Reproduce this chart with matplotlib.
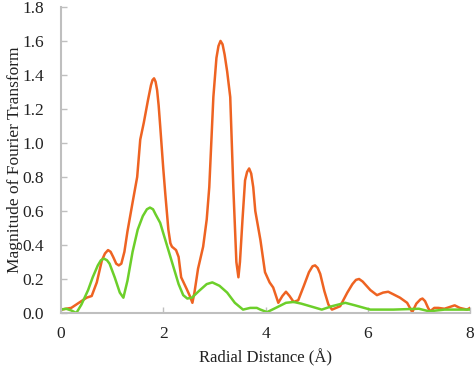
import numpy as np
import matplotlib
matplotlib.use("Agg")
import matplotlib.pyplot as plt

# orange curve
r_orange = [0.0, 0.2, 0.4, 0.5, 0.6, 0.7, 0.8, 0.86, 0.92, 0.97, 1.02, 1.08, 1.13, 1.18, 1.24, 1.3,
            1.4, 1.49, 1.55, 1.62, 1.7, 1.76, 1.79, 1.82, 1.85, 1.88, 1.91, 1.94, 2.0, 2.04,
            2.1, 2.14, 2.17, 2.25, 2.3, 2.35, 2.46, 2.52, 2.57, 2.61, 2.68, 2.78, 2.85, 2.9,
            2.98, 3.04, 3.08, 3.12, 3.16, 3.2, 3.25, 3.31, 3.37, 3.43, 3.47, 3.5, 3.55, 3.6,
            3.64, 3.68, 3.72, 3.76, 3.8, 3.9, 3.99, 4.08, 4.15, 4.25, 4.33, 4.4, 4.47, 4.55,
            4.64, 4.75, 4.85, 4.92, 4.97, 5.02, 5.07, 5.15, 5.23, 5.3, 5.46, 5.6, 5.7, 5.77,
            5.83, 5.9, 6.05, 6.18, 6.3, 6.4, 6.5, 6.63, 6.77, 6.87, 6.95, 7.03, 7.07, 7.12,
            7.18, 7.22, 7.3, 7.38, 7.5, 7.6, 7.7, 7.8, 7.94, 8.0]
m_orange = [0.02, 0.03, 0.07, 0.09, 0.10, 0.18, 0.31, 0.35, 0.37, 0.36, 0.33, 0.29, 0.28, 0.29, 0.36, 0.48,
            0.65, 0.80, 1.02, 1.12, 1.25, 1.34, 1.37, 1.38, 1.36, 1.31, 1.22, 1.10, 0.85, 0.70,
            0.49, 0.41, 0.39, 0.37, 0.33, 0.21, 0.14, 0.10, 0.06, 0.12, 0.26, 0.39, 0.55, 0.74,
            1.27, 1.50, 1.57, 1.60, 1.58, 1.52, 1.42, 1.27, 0.74, 0.30, 0.21, 0.30, 0.55, 0.78,
            0.83, 0.85, 0.82, 0.74, 0.60, 0.43, 0.24, 0.18, 0.15, 0.06, 0.10, 0.125, 0.10, 0.065,
            0.075, 0.16, 0.24, 0.275, 0.28, 0.265, 0.23, 0.13, 0.05, 0.02, 0.04, 0.12, 0.17, 0.195,
            0.20, 0.185, 0.135, 0.105, 0.12, 0.125, 0.11, 0.09, 0.06, 0.005, 0.055, 0.08, 0.085, 0.07,
            0.03, 0.01, 0.03, 0.03, 0.025, 0.035, 0.045, 0.03, 0.02, 0.03]

# green curve
r_green = [0.0, 0.1, 0.2, 0.3, 0.4, 0.53, 0.62, 0.72, 0.78, 0.84, 0.9, 0.95, 1.05, 1.15, 1.22, 1.3,
           1.4, 1.5, 1.6, 1.68, 1.74, 1.8, 1.85, 1.94, 2.05, 2.2, 2.3, 2.39, 2.47, 2.56, 2.7,
           2.85, 2.96, 3.1, 3.25, 3.4, 3.56, 3.7, 3.83, 3.9, 4.03, 4.2, 4.4, 4.55, 4.7, 4.93,
           5.1, 5.3, 5.56, 5.75, 6.05, 6.5, 7.0, 7.2, 7.5, 8.0]
m_green = [0.02, 0.025, 0.015, 0.0, 0.05, 0.135, 0.21, 0.28, 0.31, 0.32, 0.31, 0.29, 0.21, 0.12, 0.09, 0.19,
           0.36, 0.49, 0.57, 0.61, 0.62, 0.61, 0.58, 0.53, 0.42, 0.27, 0.17, 0.105, 0.085, 0.09, 0.13,
           0.17, 0.18, 0.16, 0.12, 0.06, 0.02, 0.03, 0.03, 0.02, 0.005, 0.03, 0.06, 0.065, 0.055, 0.035,
           0.02, 0.04, 0.06, 0.045, 0.02, 0.02, 0.025, 0.01, 0.02, 0.02]

plt.rcParams['font.family'] = ['Liberation Serif', 'DejaVu Serif']

fig = plt.figure(figsize=(4.74, 3.66), dpi=100)
ax = fig.add_axes([0.1287, 0.1448, 0.8629, 0.8363])

ax.plot(r_orange, m_orange, color='#EE6322', linewidth=1.8, solid_joinstyle='round')
ax.plot(r_green, m_green, color='#6CCF2A', linewidth=1.8, solid_joinstyle='round')

ax.set_xlim(0, 8)
ax.set_ylim(0, 1.8)
ax.set_xticks([0, 2, 4, 6, 8])
ax.set_yticks(np.arange(0, 1.81, 0.2))
ax.set_yticklabels([f"{v:.1f}" for v in np.arange(0, 1.81, 0.2)])

for s in ['top', 'right']:
    ax.spines[s].set_visible(False)
for s in ['left', 'bottom']:
    ax.spines[s].set_color('#BFBFBF')
    ax.spines[s].set_linewidth(1.5)

ax.tick_params(axis='both', direction='in', color='#BFBFBF', length=4, width=1,
               labelsize=12.5, labelcolor='#222222')
ax.tick_params(axis='y', pad=12)
ax.tick_params(axis='x', pad=9)

ax.set_xlabel('Radial Distance (Å)', fontsize=12, color='#222222', labelpad=5)
ax.set_ylabel('Magnitude of Fourier Transform', fontsize=12.5, color='#222222', labelpad=0)

fig.savefig('out.png', dpi=100)
